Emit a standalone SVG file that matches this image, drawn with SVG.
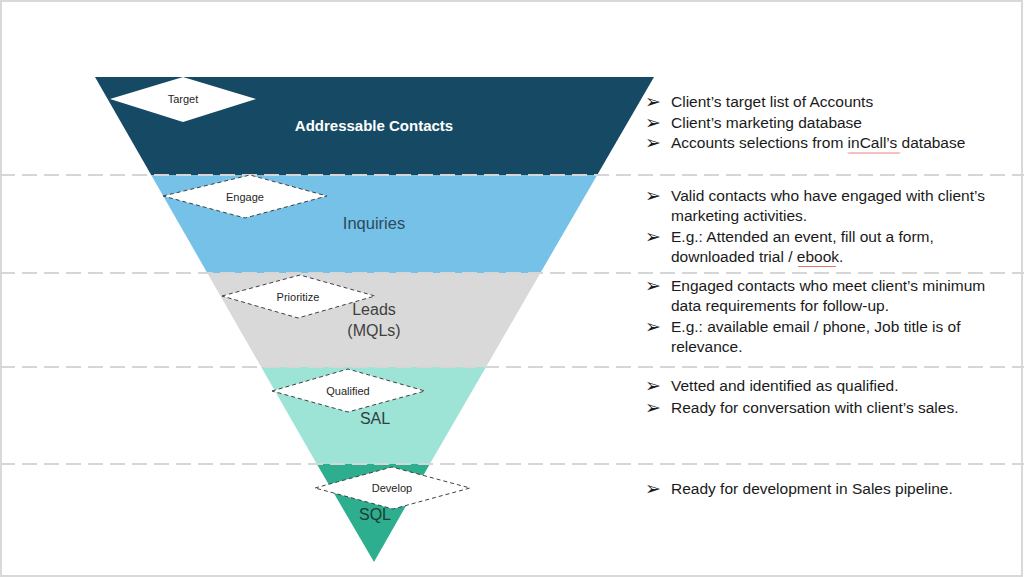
<svg xmlns="http://www.w3.org/2000/svg" width="1024" height="577" viewBox="0 0 1024 577">
<style>
.band{stroke:none}
.sep{stroke:#D6D6D6;stroke-width:2;stroke-dasharray:15 7;fill:none}
.dia{fill:#FFFFFF;stroke:#404040;stroke-width:1;stroke-dasharray:4 3}
.dlab{font-family:"Liberation Sans",Arial,sans-serif;font-size:11px;fill:#262626;text-anchor:middle}
.blab{font-family:"Liberation Sans",Arial,sans-serif;font-size:16px;fill:#404040;text-anchor:middle}
.desc{font-family:"Liberation Sans",Arial,sans-serif;font-size:15.5px;fill:#1A1A1A}
.bul{font-family:"DejaVu Sans",sans-serif;font-size:19px;fill:#1A1A1A}
.sq{fill:none;stroke:#E05050;stroke-width:0.8}
</style>
<rect x="0" y="0" width="1024" height="577" fill="#FFFFFF"/>
<rect x="1" y="1" width="1021" height="575" fill="none" stroke="#D9D9D9" stroke-width="2"/>

<g id="funnel">
<polygon id="band-addressable" class="band" fill="#164A64" points="95,77 654,77 597.2,175 151.2,175"/>
<polygon id="band-inquiries" class="band" fill="#75C1E7" points="151.2,175 597.2,175 540.4,273 207.3,273"/>
<polygon id="band-leads" class="band" fill="#D9D9D9" points="207.3,273 540.4,273 486,367 261.2,367"/>
<polygon id="band-sal" class="band" fill="#9DE3D6" points="261.2,367 486,367 429.8,464 316.8,464"/>
<polygon id="band-sql" class="band" fill="#2DAE8E" points="316.8,464 429.8,464 374,562"/>
</g>

<g id="connectors">
<line class="sep" x1="0" y1="175" x2="1024" y2="175"/>
<line class="sep" x1="0" y1="273" x2="1024" y2="273"/>
<line class="sep" x1="0" y1="367" x2="1024" y2="367"/>
<line class="sep" x1="0" y1="464" x2="1024" y2="464"/>
</g>

<g id="labels">
<text class="blab" x="374" y="131" style="fill:#FFFFFF;font-weight:bold;font-size:15px">Addressable Contacts</text>
<text class="blab" x="374" y="229" style="fill:#2E4A5C;font-size:16.5px">Inquiries</text>
<text class="blab" x="374" y="315">Leads</text>
<text class="blab" x="374" y="336">(MQLs)</text>
<text class="blab" x="375" y="424" style="fill:#2F3F3F">SAL</text>
<text class="blab" x="375" y="520" style="fill:#1F3A34">SQL</text>
</g>

<g id="node-target">
<polygon points="110,99 183,77 256,99 183,122" fill="#FFFFFF"/>
<text class="dlab" x="183" y="103">Target</text>
</g>
<g id="node-engage">
<polygon class="dia" points="163,196 250,175 327,196 245,218"/>
<text class="dlab" x="245" y="201">Engage</text>
</g>
<g id="node-prioritize">
<polygon class="dia" points="222,296 300,275 375,296 298,318"/>
<text class="dlab" x="298" y="301">Prioritize</text>
</g>
<g id="node-qualified">
<polygon class="dia" points="272,391 348,369 425,391 348,412"/>
<text class="dlab" x="348" y="395">Qualified</text>
</g>
<g id="node-develop">
<polygon class="dia" points="315,488 392,467 470,488 393,509"/>
<text class="dlab" x="392" y="492">Develop</text>
</g>

<g id="desc-addressable">
<text class="bul" x="645" y="108">➢</text>
<text class="desc" x="671" y="107">Client’s target list of Accounts</text>
<text class="bul" x="645" y="129">➢</text>
<text class="desc" x="671" y="128">Client’s marketing database</text>
<text class="bul" x="645" y="149">➢</text>
<text class="desc" x="671" y="148">Accounts selections from inCall’s database</text>
<path class="sq" d="M848,152.5 l1,1 l1,-1 l1,1 l1,-1 l1,1 l1,-1 l1,1 l1,-1 l1,1 l1,-1 l1,1 l1,-1 l1,1 l1,-1 l1,1 l1,-1 l1,1 l1,-1 l1,1 l1,-1 l1,1 l1,-1 l1,1 l1,-1 l1,1 l1,-1 l1,1 l1,-1 l1,1 l1,-1 l1,1 l1,-1 l1,1 l1,-1 l1,1 l1,-1 l1,1 l1,-1 l1,1 l1,-1 l1,1 l1,-1 l1,1 l1,-1 l1,1 l1,-1 l1,1 l1,-1 l1,1 l1,-1 l1,1 l1,-1"/>
</g>
<g id="desc-inquiries">
<text class="bul" x="645" y="202">➢</text>
<text class="desc" x="671" y="201">Valid contacts who have engaged with client’s</text>
<text class="desc" x="671" y="221">marketing activities.</text>
<text class="bul" x="645" y="243">➢</text>
<text class="desc" x="671" y="242">E.g.: Attended an event, fill out a form,</text>
<text class="desc" x="671" y="262">downloaded trial / ebook.</text>
<path class="sq" d="M798,266 l1,1 l1,-1 l1,1 l1,-1 l1,1 l1,-1 l1,1 l1,-1 l1,1 l1,-1 l1,1 l1,-1 l1,1 l1,-1 l1,1 l1,-1 l1,1 l1,-1 l1,1 l1,-1 l1,1 l1,-1 l1,1 l1,-1 l1,1 l1,-1 l1,1 l1,-1 l1,1 l1,-1 l1,1 l1,-1 l1,1 l1,-1 l1,1 l1,-1 l1,1 l1,-1"/>
</g>
<g id="desc-leads">
<text class="bul" x="645" y="292">➢</text>
<text class="desc" x="671" y="291">Engaged contacts who meet client’s minimum</text>
<text class="desc" x="671" y="311">data requirements for follow-up.</text>
<text class="bul" x="645" y="333">➢</text>
<text class="desc" x="671" y="332">E.g.: available email / phone, Job title is of</text>
<text class="desc" x="671" y="352">relevance.</text>
</g>
<g id="desc-sal">
<text class="bul" x="645" y="392">➢</text>
<text class="desc" x="671" y="391">Vetted and identified as qualified.</text>
<text class="bul" x="645" y="414">➢</text>
<text class="desc" x="671" y="413">Ready for conversation with client’s sales.</text>
</g>
<g id="desc-sql">
<text class="bul" x="645" y="495">➢</text>
<text class="desc" x="671" y="494">Ready for development in Sales pipeline.</text>
</g>
</svg>
